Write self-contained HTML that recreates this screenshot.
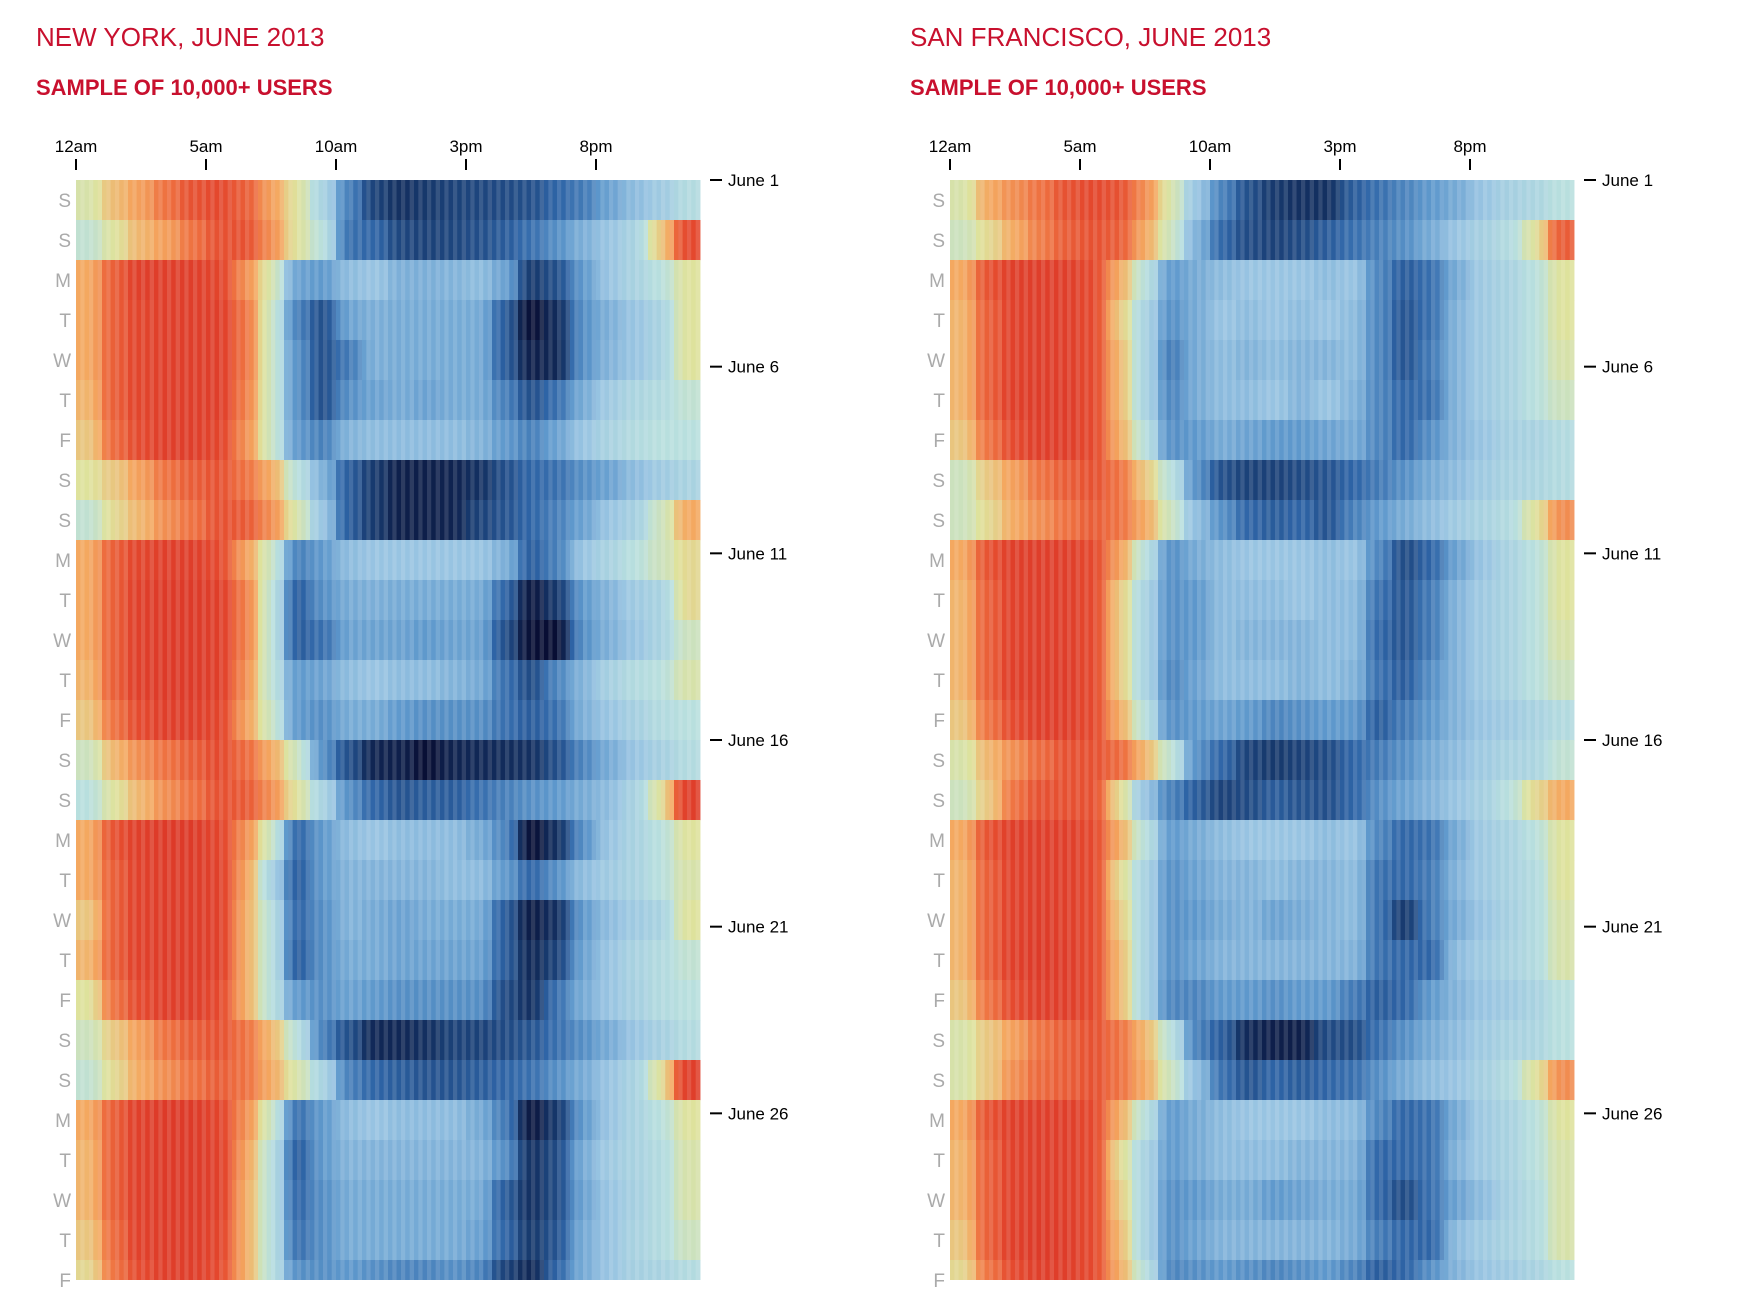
<!DOCTYPE html>
<html><head><meta charset="utf-8">
<style>
html,body{margin:0;padding:0;background:#fff;}
svg{display:block;}
.title{font-family:"Liberation Sans",sans-serif;font-size:26px;fill:#c8102e;}
.sub{font-family:"Liberation Sans",sans-serif;font-size:22px;font-weight:bold;fill:#c8102e;}
.tick{font-family:"Liberation Sans",sans-serif;font-size:17px;fill:#000;}
.day{font-family:"Liberation Sans",sans-serif;font-size:19px;fill:#aaa;}
</style></head>
<body>
<svg id="chart" width="1762" height="1306" xmlns="http://www.w3.org/2000/svg">
<defs>
<clipPath id="clipGrid"><rect x="0" y="180" width="1762" height="1100"/></clipPath>
</defs>
</svg>
<script>
const hourTicks = [0,5,10,15,20];
const hourTickLabels = ["12am","5am","10am","3pm","8pm"];
const dayLetters = ["S","S","M","T","W","T","F","S","S","M","T","W","T","F","S","S","M","T","W","T","F","S","S","M","T","W","T","F"];
const dateTicks = [1,6,11,16,21,26];
const dateTickLabels = ["June 1","June 6","June 11","June 16","June 21","June 26"];
const nyValues = [
[0.42,0.33,0.28,0.2,0.12,0.1,0.15,0.28,0.4,0.55,0.75,0.88,0.92,0.9,0.88,0.87,0.86,0.85,0.8,0.76,0.68,0.62,0.58,0.52],
[0.48,0.4,0.32,0.28,0.2,0.12,0.12,0.25,0.4,0.5,0.78,0.8,0.87,0.88,0.87,0.85,0.82,0.78,0.72,0.65,0.6,0.55,0.35,0.1],
[0.3,0.15,0.05,0.05,0.05,0.08,0.25,0.42,0.68,0.7,0.62,0.6,0.65,0.65,0.64,0.62,0.68,0.9,0.85,0.7,0.6,0.55,0.5,0.4],
[0.3,0.15,0.08,0.05,0.05,0.05,0.2,0.45,0.75,0.85,0.68,0.65,0.66,0.66,0.66,0.66,0.82,1.0,0.93,0.72,0.65,0.6,0.55,0.4],
[0.3,0.15,0.08,0.05,0.05,0.05,0.2,0.45,0.72,0.85,0.76,0.65,0.66,0.66,0.66,0.66,0.82,0.96,0.94,0.72,0.64,0.6,0.55,0.4],
[0.32,0.15,0.08,0.05,0.05,0.05,0.22,0.45,0.72,0.85,0.72,0.68,0.66,0.68,0.66,0.66,0.75,0.85,0.78,0.66,0.58,0.54,0.52,0.48],
[0.35,0.18,0.1,0.05,0.05,0.08,0.25,0.45,0.7,0.75,0.64,0.62,0.62,0.62,0.62,0.64,0.7,0.75,0.68,0.6,0.55,0.52,0.5,0.5],
[0.4,0.35,0.28,0.2,0.15,0.12,0.2,0.3,0.5,0.65,0.82,0.9,0.96,0.96,0.95,0.92,0.85,0.8,0.78,0.72,0.68,0.62,0.58,0.55],
[0.48,0.38,0.32,0.25,0.2,0.12,0.14,0.25,0.42,0.6,0.82,0.9,0.96,0.96,0.95,0.88,0.84,0.8,0.75,0.68,0.6,0.56,0.45,0.3],
[0.3,0.15,0.08,0.05,0.05,0.1,0.28,0.45,0.75,0.7,0.62,0.6,0.6,0.6,0.6,0.6,0.65,0.82,0.75,0.6,0.55,0.5,0.45,0.38],
[0.3,0.15,0.05,0.03,0.03,0.05,0.22,0.48,0.82,0.72,0.66,0.65,0.66,0.66,0.66,0.66,0.8,0.98,0.9,0.7,0.64,0.58,0.55,0.38],
[0.3,0.15,0.05,0.03,0.03,0.05,0.22,0.48,0.82,0.78,0.68,0.68,0.68,0.7,0.68,0.68,0.85,1.0,1.0,0.72,0.65,0.6,0.55,0.45],
[0.32,0.15,0.05,0.03,0.03,0.05,0.25,0.48,0.7,0.68,0.62,0.6,0.62,0.62,0.64,0.66,0.78,0.86,0.74,0.64,0.56,0.52,0.5,0.42],
[0.35,0.2,0.1,0.05,0.05,0.08,0.28,0.45,0.7,0.72,0.66,0.66,0.7,0.72,0.72,0.72,0.78,0.82,0.78,0.65,0.6,0.56,0.52,0.5],
[0.45,0.32,0.25,0.2,0.15,0.1,0.18,0.3,0.45,0.72,0.85,0.95,0.96,1.0,0.95,0.94,0.93,0.92,0.85,0.74,0.66,0.6,0.56,0.52],
[0.5,0.4,0.32,0.25,0.2,0.12,0.14,0.25,0.4,0.55,0.72,0.8,0.84,0.82,0.82,0.78,0.75,0.72,0.7,0.66,0.62,0.55,0.4,0.05],
[0.3,0.12,0.05,0.03,0.03,0.08,0.25,0.45,0.8,0.7,0.62,0.6,0.62,0.62,0.62,0.66,0.74,1.0,0.92,0.72,0.6,0.55,0.5,0.4],
[0.3,0.15,0.06,0.04,0.04,0.06,0.28,0.55,0.82,0.7,0.64,0.64,0.64,0.64,0.62,0.62,0.7,0.8,0.72,0.62,0.58,0.55,0.5,0.42],
[0.35,0.15,0.06,0.04,0.04,0.06,0.3,0.5,0.8,0.72,0.64,0.66,0.68,0.66,0.66,0.66,0.82,0.97,0.92,0.7,0.62,0.58,0.55,0.4],
[0.32,0.15,0.06,0.04,0.04,0.06,0.3,0.5,0.82,0.72,0.66,0.66,0.68,0.68,0.68,0.68,0.82,0.94,0.88,0.68,0.6,0.55,0.52,0.48],
[0.4,0.2,0.1,0.05,0.05,0.1,0.3,0.5,0.7,0.72,0.68,0.7,0.72,0.72,0.72,0.72,0.86,0.92,0.78,0.66,0.6,0.56,0.52,0.5],
[0.45,0.35,0.28,0.2,0.15,0.12,0.2,0.32,0.5,0.75,0.85,0.94,0.94,0.92,0.88,0.88,0.86,0.84,0.78,0.72,0.66,0.6,0.56,0.52],
[0.48,0.38,0.3,0.25,0.2,0.15,0.2,0.3,0.42,0.55,0.75,0.8,0.82,0.84,0.84,0.82,0.8,0.78,0.72,0.66,0.6,0.55,0.4,0.05],
[0.3,0.15,0.05,0.03,0.03,0.08,0.25,0.45,0.78,0.7,0.62,0.6,0.62,0.62,0.62,0.66,0.76,0.98,0.9,0.7,0.6,0.55,0.5,0.4],
[0.32,0.15,0.05,0.03,0.03,0.06,0.28,0.5,0.82,0.7,0.64,0.64,0.64,0.64,0.64,0.64,0.72,0.92,0.86,0.66,0.58,0.55,0.52,0.42],
[0.32,0.15,0.05,0.03,0.03,0.06,0.3,0.5,0.8,0.72,0.66,0.66,0.66,0.66,0.66,0.66,0.82,0.92,0.86,0.68,0.6,0.56,0.52,0.42],
[0.35,0.18,0.06,0.04,0.04,0.08,0.3,0.5,0.78,0.72,0.66,0.66,0.66,0.66,0.66,0.68,0.8,0.9,0.84,0.66,0.6,0.55,0.52,0.45],
[0.38,0.2,0.1,0.05,0.05,0.1,0.3,0.5,0.72,0.72,0.7,0.72,0.74,0.74,0.72,0.74,0.88,0.94,0.8,0.66,0.6,0.56,0.55,0.52]
];
const sfValues = [
[0.42,0.3,0.25,0.2,0.12,0.1,0.12,0.25,0.42,0.6,0.75,0.85,0.9,0.92,0.92,0.82,0.78,0.74,0.7,0.66,0.6,0.56,0.54,0.5],
[0.45,0.38,0.3,0.22,0.15,0.12,0.15,0.3,0.45,0.65,0.8,0.86,0.88,0.86,0.82,0.78,0.75,0.72,0.66,0.6,0.56,0.52,0.4,0.15],
[0.3,0.12,0.05,0.05,0.05,0.1,0.3,0.5,0.7,0.66,0.62,0.6,0.6,0.6,0.62,0.6,0.74,0.82,0.78,0.66,0.58,0.55,0.5,0.4],
[0.32,0.15,0.06,0.05,0.05,0.1,0.35,0.55,0.72,0.66,0.6,0.62,0.6,0.62,0.6,0.62,0.74,0.84,0.78,0.64,0.58,0.55,0.5,0.4],
[0.32,0.15,0.06,0.05,0.05,0.1,0.32,0.55,0.76,0.66,0.62,0.64,0.62,0.64,0.64,0.62,0.74,0.84,0.76,0.64,0.58,0.55,0.5,0.42],
[0.32,0.15,0.05,0.04,0.04,0.1,0.32,0.55,0.74,0.66,0.62,0.62,0.6,0.64,0.6,0.64,0.74,0.8,0.78,0.64,0.58,0.55,0.5,0.45],
[0.35,0.2,0.1,0.05,0.05,0.1,0.3,0.5,0.72,0.7,0.66,0.68,0.7,0.7,0.68,0.66,0.74,0.8,0.72,0.64,0.6,0.56,0.55,0.52],
[0.45,0.35,0.28,0.2,0.15,0.12,0.2,0.35,0.5,0.72,0.85,0.88,0.88,0.86,0.84,0.8,0.76,0.72,0.66,0.62,0.58,0.55,0.54,0.52],
[0.45,0.38,0.3,0.25,0.2,0.15,0.2,0.3,0.45,0.62,0.72,0.8,0.82,0.8,0.84,0.75,0.7,0.66,0.62,0.58,0.55,0.52,0.4,0.25],
[0.3,0.12,0.05,0.05,0.05,0.1,0.28,0.5,0.72,0.66,0.62,0.6,0.6,0.6,0.62,0.6,0.74,0.86,0.8,0.68,0.6,0.55,0.5,0.4],
[0.32,0.15,0.06,0.05,0.05,0.1,0.35,0.55,0.72,0.7,0.62,0.62,0.62,0.6,0.62,0.62,0.78,0.84,0.76,0.64,0.58,0.55,0.5,0.4],
[0.32,0.15,0.06,0.05,0.05,0.1,0.35,0.55,0.72,0.7,0.62,0.64,0.64,0.64,0.62,0.62,0.8,0.84,0.76,0.64,0.58,0.55,0.5,0.42],
[0.32,0.15,0.05,0.04,0.04,0.1,0.35,0.55,0.74,0.68,0.62,0.62,0.62,0.64,0.62,0.64,0.78,0.82,0.72,0.64,0.58,0.55,0.5,0.45],
[0.35,0.2,0.1,0.05,0.05,0.1,0.3,0.5,0.72,0.7,0.68,0.7,0.74,0.72,0.7,0.7,0.82,0.76,0.7,0.64,0.6,0.58,0.55,0.52],
[0.42,0.32,0.25,0.18,0.12,0.12,0.18,0.32,0.48,0.72,0.8,0.88,0.9,0.88,0.86,0.8,0.76,0.72,0.66,0.62,0.58,0.55,0.54,0.48],
[0.45,0.35,0.2,0.12,0.12,0.12,0.38,0.6,0.75,0.82,0.88,0.86,0.82,0.84,0.85,0.8,0.72,0.68,0.64,0.6,0.56,0.5,0.38,0.3],
[0.3,0.12,0.05,0.05,0.05,0.1,0.3,0.5,0.7,0.66,0.62,0.6,0.6,0.6,0.62,0.6,0.74,0.8,0.78,0.66,0.58,0.55,0.5,0.4],
[0.32,0.15,0.06,0.05,0.05,0.1,0.38,0.55,0.72,0.68,0.64,0.64,0.62,0.64,0.64,0.62,0.78,0.8,0.76,0.64,0.58,0.55,0.52,0.4],
[0.32,0.15,0.06,0.04,0.05,0.1,0.35,0.55,0.72,0.7,0.66,0.64,0.68,0.66,0.64,0.62,0.78,0.9,0.76,0.66,0.6,0.56,0.52,0.42],
[0.32,0.15,0.05,0.03,0.04,0.1,0.32,0.55,0.72,0.68,0.64,0.64,0.64,0.64,0.64,0.64,0.78,0.8,0.8,0.62,0.58,0.55,0.52,0.42],
[0.35,0.2,0.1,0.05,0.05,0.1,0.32,0.55,0.74,0.74,0.7,0.7,0.72,0.7,0.7,0.76,0.82,0.8,0.7,0.64,0.6,0.58,0.55,0.5],
[0.42,0.35,0.28,0.2,0.15,0.12,0.2,0.32,0.5,0.75,0.82,0.94,0.96,0.96,0.86,0.86,0.78,0.72,0.66,0.62,0.58,0.55,0.54,0.5],
[0.42,0.35,0.25,0.18,0.15,0.12,0.2,0.3,0.45,0.62,0.78,0.84,0.8,0.82,0.8,0.78,0.72,0.66,0.62,0.6,0.56,0.52,0.4,0.25],
[0.3,0.12,0.05,0.05,0.05,0.1,0.3,0.5,0.7,0.66,0.62,0.6,0.6,0.6,0.62,0.62,0.74,0.8,0.78,0.66,0.58,0.55,0.5,0.4],
[0.32,0.15,0.06,0.05,0.05,0.1,0.38,0.55,0.7,0.66,0.62,0.62,0.62,0.64,0.64,0.64,0.8,0.8,0.78,0.64,0.58,0.55,0.5,0.42],
[0.32,0.15,0.06,0.04,0.05,0.1,0.35,0.55,0.72,0.7,0.66,0.66,0.7,0.68,0.66,0.66,0.8,0.86,0.78,0.68,0.62,0.56,0.52,0.42],
[0.35,0.15,0.05,0.03,0.04,0.1,0.32,0.55,0.72,0.68,0.64,0.64,0.64,0.64,0.64,0.66,0.76,0.8,0.8,0.62,0.58,0.55,0.52,0.42],
[0.38,0.2,0.1,0.05,0.05,0.1,0.3,0.5,0.74,0.72,0.7,0.72,0.74,0.72,0.7,0.74,0.82,0.8,0.72,0.64,0.6,0.58,0.55,0.5]
];

const NS = "http://www.w3.org/2000/svg";
const svg = document.getElementById("chart");
const stops = [[0,[218,52,38]],[0.1,[228,72,45]],[0.2,[238,112,64]],[0.3,[244,168,96]],[0.4,[222,226,156]],[0.5,[184,223,222]],[0.6,[152,196,226]],[0.7,[94,152,204]],[0.8,[46,100,166]],[0.9,[22,56,108]],[1,[8,14,52]]];
function color(v){
  v=Math.max(0,Math.min(1,v));
  for(let i=1;i<stops.length;i++){
    if(v<=stops[i][0]){
      const a=stops[i-1],b=stops[i],t=(v-a[0])/(b[0]-a[0]);
      const c=a[1].map((x,k)=>Math.round(x+(b[1][k]-x)*t));
      return "rgb("+c.join(",")+")";
    }
  }
  return "rgb(8,14,52)";
}
const gridTop=180,rowH=40,hourW=26,gridW=624,gridH=1120,subs=6;
function xScale(left,h){return left+h*hourW;}
function yScale(row){return gridTop+row*rowH;}
function dateScale(d){return gridTop+(d-1)*gridH/30;}
function el(tag,attrs,parent){const e=document.createElementNS(NS,tag);for(const k in attrs)e.setAttribute(k,attrs[k]);(parent||svg).appendChild(e);return e;}

function panel(left,title,values,key){
  const g=el("g",{});
  
  
  const t=el("text",{x:36+(left-76),y:46,class:"title"},g);t.textContent=title;
  
  
  const s=el("text",{x:36+(left-76),y:95,class:"sub"},g);s.textContent="SAMPLE OF 10,000+ USERS";
  
  
  hourTicks.forEach((h,i)=>{
    const x=xScale(left,h);
    const tl=el("text",{x:x,y:152,class:"tick","text-anchor":"middle"},g);tl.textContent=hourTickLabels[i];
    
    
    const ln=el("line",{x1:x,x2:x,y1:159,y2:170,stroke:"#000","stroke-width":2},g);
    
    
  });
  const cells=el("g",{"clip-path":"url(#clipGrid)"},g);
  
  
  values.forEach((row,r)=>{
    row.forEach((v,h)=>{
      const prev = h>0 ? row[h-1] : v;
      const next = h<row.length-1 ? row[h+1] : v;
      for(let k=0;k<subs;k++){
        const p=(k+0.5)/subs;
        let sv=v;
        if(p<0.5) sv = v + (prev-v)*(0.5-p)*0.7;
        else sv = v + (next-v)*(p-0.5)*0.7;
        const sx=xScale(left,h)+k*hourW/subs;
        const c=el("rect",{x:sx,y:yScale(r),width:hourW/subs+0.4,height:rowH+0.5,fill:color(sv)},cells);
        
        
        if(k%2===1){
          const st=el("rect",{x:sx,y:yScale(r),width:hourW/subs,height:rowH+0.5,fill:"#fff","fill-opacity":0.13},cells);
          
          
        }
      }
    });
  });
  dayLetters.forEach((d,r)=>{
    const y=yScale(r)+rowH/2+7;
    if(y>1300) return;
    const dl=el("text",{x:left-5,y:y,class:"day","text-anchor":"end"},g);dl.textContent=d;
    
    
  });
  dateTicks.forEach((d,i)=>{
    const y=dateScale(d);
    const ln=el("line",{x1:left+gridW+10,x2:left+gridW+22,y1:y,y2:y,stroke:"#000","stroke-width":2},g);
    
    
    const tl=el("text",{x:left+gridW+28,y:y+6,class:"tick"},g);tl.textContent=dateTickLabels[i];
    
    
  });
}
panel(76,"NEW YORK, JUNE 2013",nyValues,"new-york");
panel(950,"SAN FRANCISCO, JUNE 2013",sfValues,"san-francisco");
</script>
</body></html>
